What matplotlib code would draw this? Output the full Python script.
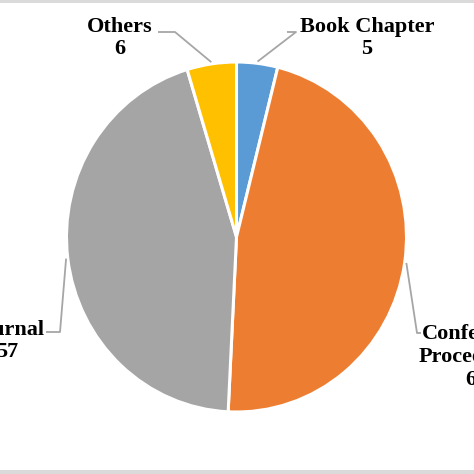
import numpy as np
import matplotlib
matplotlib.use("Agg")
import matplotlib.pyplot as plt
from matplotlib.patches import Rectangle

categories = ["Book Chapter", "Conference Proceedings", "Journal", "Others"]
values = [5, 60, 57, 6]
colors = ["#5B9BD5", "#ED7D31", "#A5A5A5", "#FFC000"]

W = H = 474
fig = plt.figure(figsize=(4.74, 4.74), dpi=100)
fig.patch.set_facecolor("white")
ax = fig.add_axes([0, 0, 1, 1])

cx, cy, rx, ry = 236.5, 237.0, 170.0, 175.0

def px(xp, yp):
    return ((xp - cx) / rx, (cy - yp) / ry)

wedges, _ = ax.pie(values, colors=colors, startangle=90, counterclock=False,
                   wedgeprops=dict(edgecolor="white", linewidth=2.2))
ax.set_aspect("auto")
ax.set_xlim(-cx / rx, (W - cx) / rx)
ax.set_ylim(-(H - cy) / ry, cy / ry)
ax.axis("off")

# label layout (pixel positions, line spacing), per category
label_pos = {
    "Book Chapter": (367, 38, 1.08),
    "Conference Proceedings": (476, 357, 1.22),
    "Journal": (7, 341, 1.12),
    "Others": (119.5, 38, 1.08),
}
label_text = {
    "Book Chapter": "Book Chapter",
    "Conference Proceedings": "Conference\nProceedings",
    "Journal": "Journal",
    "Others": "Others",
}
# leader elbow points (pixels): [elbow, end near text]
leaders = {
    "Book Chapter": [(296, 32), (287, 32)],
    "Conference Proceedings": [(417, 333), (421, 333)],
    "Journal": [(60, 332), (46, 332)],
    "Others": [(175, 32), (158, 32)],
}

for w, cat, v in zip(wedges, categories, values):
    mid = np.deg2rad((w.theta1 + w.theta2) / 2)
    ax_pt = (1.01 * np.cos(mid), 1.01 * np.sin(mid))
    pts = [ax_pt] + [px(*p) for p in leaders[cat]]
    xs, ys = zip(*pts)
    ax.plot(xs, ys, color="#A6A6A6", lw=1.3, solid_capstyle="butt", zorder=1)
    lx, ly, ls = label_pos[cat]
    tx, ty = px(lx, ly)
    ax.text(tx, ty, f"{label_text[cat]}\n{v}", ha="center", va="center",
            fontsize=16, fontweight="bold", family="Liberation Serif",
            linespacing=ls, color="black", clip_on=False)

fig.patches.append(Rectangle((0, 1 - 3 / H), 1, 3 / H, transform=fig.transFigure,
                             facecolor="#DADADA", edgecolor="none"))
fig.patches.append(Rectangle((0, 0), 1, 4 / H, transform=fig.transFigure,
                             facecolor="#DADADA", edgecolor="none"))

fig.savefig("out.png", dpi=100, facecolor="white")
